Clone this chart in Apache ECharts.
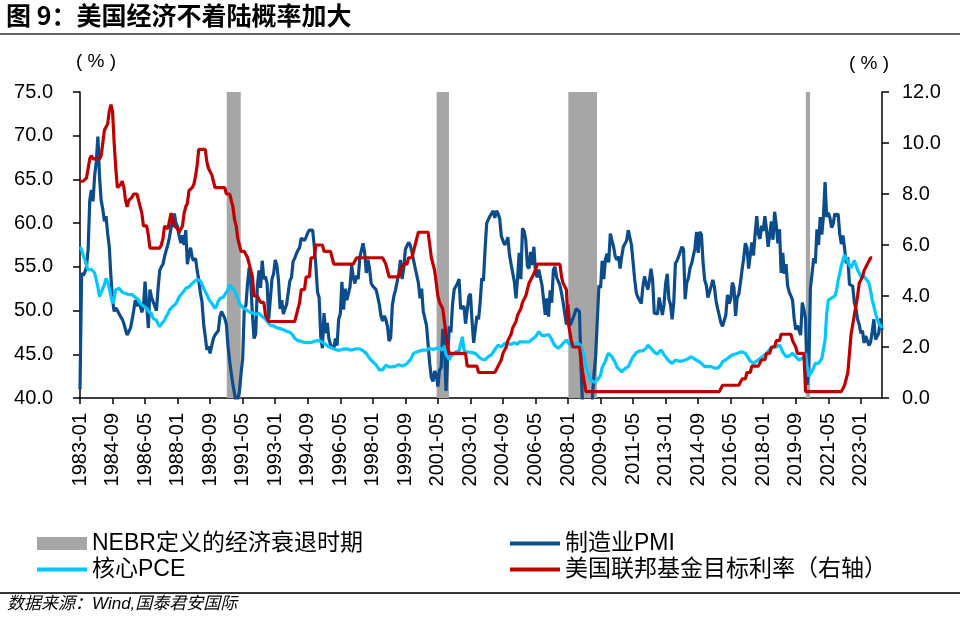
<!DOCTYPE html>
<html><head><meta charset="utf-8">
<script src="https://cdn.jsdelivr.net/npm/echarts@6/dist/echarts.min.js"></script>
<style>html,body{margin:0;padding:0;background:#fff}#c{width:960px;height:617px}</style>
</head><body><div id="c"></div>
<script>
// ---------- categories (monthly, 1983-01 .. 2024-02) ----------
const startYear = 1983, endYear = 2024, endMonth = 2;
const categories = [];
for (let y = startYear; y <= endYear; y++) {
  for (let m = 1; m <= 12; m++) {
    if (y === endYear && m > endMonth) break;
    categories.push(y + '-' + String(m).padStart(2, '0'));
  }
}
// ---------- recession periods (months shaded) ----------
const recessionStart = ['1990-08', '2001-05', '2008-02', '2020-04'];
const recessionEnd   = ['1991-03', '2001-11', '2009-06', '2020-05'];
// ---------- axis ticks ----------
const leftTicks = { min: 40, max: 75, step: 5 };
const rightTicks = { min: 0, max: 12, step: 2 };
// ---------- ISM manufacturing PMI ----------
const pmi = [
/*1983*/41.0,54.3,54.0,54.4,55.0,57.0,62.6,63.8,62.5,65.4,67.0,69.9,
/*1984*/65.3,62.6,61.6,60.2,60.8,58.8,57.3,53.9,51.2,49.9,50.3,50.0,
/*1985*/50.0,49.3,49.0,48.5,47.8,47.2,47.6,48.0,48.9,50.0,51.2,50.5,
/*1986*/50.9,50.6,49.8,50.5,53.3,50.6,48.0,52.4,51.5,51.0,50.8,50.0,
/*1987*/52.5,54.6,55.0,55.3,56.2,56.9,57.5,58.4,59.5,60.3,61.1,60.0,
/*1988*/59.6,58.5,57.7,58.6,57.5,59.2,55.3,56.5,57.2,56.0,55.7,56.0,
/*1989*/54.6,53.5,52.0,51.0,48.5,47.0,45.5,45.9,45.1,46.0,46.8,47.2,
/*1990*/47.3,47.7,49.3,49.9,49.5,49.1,48.4,45.9,44.2,42.8,41.5,40.5,
/*1991*/39.2,39.4,40.7,42.8,44.5,50.3,50.6,53.1,54.9,53.1,49.5,46.8,
/*1992*/47.3,52.7,54.6,52.6,55.7,53.6,53.9,53.1,49.0,49.2,53.6,54.2,
/*1993*/55.8,55.2,53.5,50.2,51.2,49.6,50.2,50.7,50.8,53.4,53.8,55.6,
/*1994*/56.0,56.5,56.9,57.2,58.3,58.4,58.0,58.4,58.9,59.2,59.4,59.2,
/*1995*/57.4,55.1,52.1,51.5,47.0,45.7,49.7,47.4,48.6,46.8,46.1,45.9,
/*1996*/45.6,46.8,46.0,49.0,49.6,53.3,50.1,52.5,51.2,51.3,52.7,55.2,
/*1997*/53.8,53.1,54.0,53.6,56.1,56.0,57.7,56.6,54.3,55.8,54.8,53.1,
/*1998*/52.8,52.9,52.4,51.6,50.7,49.4,48.8,49.4,49.0,48.2,46.5,46.9,
/*1999*/50.6,51.7,52.4,52.3,54.3,55.8,53.6,54.8,57.0,57.2,57.8,57.5,
/*2000*/56.7,55.8,54.9,54.7,53.2,51.4,52.5,49.9,49.9,48.3,48.5,43.9,
/*2001*/42.3,41.9,43.1,42.7,41.3,43.2,43.5,47.9,46.2,40.8,44.5,48.2,
/*2002*/47.5,50.7,52.4,52.4,53.1,53.6,50.2,50.3,50.5,48.5,48.5,51.6,
/*2003*/51.9,48.8,46.3,46.1,49.4,49.0,51.0,53.7,53.4,57.0,60.0,60.1,
/*2004*/60.8,60.6,61.4,60.6,61.4,61.1,60.5,58.5,58.0,57.5,57.8,58.4,
/*2005*/56.4,55.3,55.2,53.3,51.4,53.8,56.6,53.6,59.4,59.1,58.1,55.1,
/*2006*/54.8,56.7,55.2,57.3,54.4,53.8,54.7,54.5,52.9,51.2,49.5,51.4,
/*2007*/49.3,52.3,50.9,54.7,55.0,53.8,53.8,52.9,52.0,50.9,50.8,48.4,
/*2008*/50.7,48.3,48.6,48.6,49.6,50.2,50.0,49.9,43.5,38.9,36.2,32.4,
/*2009*/35.6,35.8,36.3,40.1,42.8,44.8,48.9,52.9,52.6,55.7,53.6,55.9,
/*2010*/56.5,55.5,58.8,58.0,57.3,56.2,55.8,56.2,54.8,56.2,57.3,57.3,
/*2011*/58.0,59.2,59.0,57.5,57.3,53.5,52.0,51.5,51.6,50.8,52.7,53.9,
/*2012*/54.1,52.4,53.4,54.8,53.5,49.7,49.8,49.6,51.5,51.7,49.5,50.7,
/*2013*/53.1,54.2,51.3,50.7,49.0,50.9,55.4,55.7,56.2,56.4,57.3,57.0,
/*2014*/51.3,53.2,53.7,54.9,55.4,55.3,57.1,59.0,56.6,59.0,58.7,55.5,
/*2015*/53.5,52.9,51.5,51.5,52.8,53.5,52.7,51.1,50.2,50.1,48.6,48.2,
/*2016*/48.2,49.5,51.8,50.8,51.3,53.2,52.6,49.4,51.5,51.9,53.2,54.7,
/*2017*/56.0,57.7,57.2,54.8,54.9,57.8,56.3,58.8,60.8,58.7,58.2,59.7,
/*2018*/59.1,60.8,59.3,57.3,58.7,60.2,58.1,61.3,59.8,57.7,59.3,54.3,
/*2019*/56.6,54.2,55.3,52.8,52.1,51.7,51.2,49.1,47.8,48.3,48.1,47.2,
/*2020*/50.9,50.1,49.1,41.5,43.1,52.6,54.2,56.0,55.4,59.3,57.5,60.7,
/*2021*/58.7,60.8,64.7,60.7,61.2,60.6,59.5,59.9,61.1,60.8,61.1,58.8,
/*2022*/57.6,58.6,57.1,55.4,56.1,53.0,52.8,52.8,50.9,50.2,49.0,48.4,
/*2023*/47.4,47.7,46.3,47.1,46.9,46.0,46.4,47.6,49.0,46.7,46.7,47.4,
/*2024*/49.1,47.8
];
// ---------- core PCE YoY (%) ----------
const corePce = [
/*1983*/5.93,5.80,5.60,5.41,5.20,5.02,4.95,5.05,5.10,4.90,4.63,4.35,
/*1984*/3.97,4.15,4.30,4.45,4.69,4.55,4.30,4.00,3.71,3.90,4.25,4.20,
/*1985*/4.30,4.25,4.15,4.20,4.10,4.14,4.05,4.10,4.06,4.00,3.95,3.90,
/*1986*/3.85,3.71,3.65,3.60,3.55,3.52,3.40,3.35,3.30,3.12,3.10,3.05,
/*1987*/2.90,2.80,2.90,2.95,3.05,3.20,3.30,3.45,3.50,3.59,3.65,3.70,
/*1988*/3.75,3.97,4.05,4.10,4.20,4.30,4.35,4.35,4.43,4.50,4.55,4.60,
/*1989*/4.65,4.69,4.60,4.45,4.30,4.17,4.05,3.90,3.80,3.71,3.65,3.52,
/*1990*/3.60,3.80,3.90,3.97,3.95,4.05,4.15,4.25,4.43,4.35,4.30,4.20,
/*1991*/4.05,3.90,3.71,3.65,3.55,3.50,3.46,3.40,3.38,3.35,3.33,3.30,
/*1992*/3.28,3.30,3.32,3.25,3.20,3.15,3.10,3.05,2.93,2.85,2.80,2.83,
/*1993*/2.80,2.75,2.78,2.72,2.70,2.68,2.65,2.62,2.60,2.58,2.55,2.45,
/*1994*/2.34,2.30,2.25,2.20,2.22,2.20,2.18,2.15,2.17,2.20,2.18,2.20,
/*1995*/2.22,2.27,2.25,2.20,2.22,2.18,2.15,2.10,2.05,2.00,1.98,1.95,
/*1996*/1.92,1.90,1.88,1.90,1.88,1.90,1.92,1.95,1.93,1.90,1.88,1.85,
/*1997*/1.90,1.92,1.93,1.95,1.93,1.90,1.85,1.81,1.75,1.65,1.55,1.49,
/*1998*/1.42,1.35,1.30,1.20,1.10,1.03,1.10,1.20,1.29,1.25,1.22,1.25,
/*1999*/1.22,1.20,1.25,1.29,1.30,1.28,1.25,1.29,1.30,1.35,1.42,1.50,
/*2000*/1.60,1.75,1.70,1.80,1.81,1.85,1.82,1.88,1.90,1.88,1.92,1.95,
/*2001*/1.95,1.90,1.88,1.95,2.00,1.95,1.90,1.88,2.05,1.70,1.60,1.50,
/*2002*/1.65,1.68,1.72,1.81,1.78,1.85,1.90,2.40,1.90,1.81,1.78,1.80,
/*2003*/1.81,1.78,1.81,1.75,1.68,1.62,1.55,1.52,1.49,1.50,1.55,1.62,
/*2004*/1.62,1.70,1.80,1.90,1.95,2.07,2.05,2.00,2.07,2.14,2.12,2.14,
/*2005*/2.14,2.10,2.14,2.17,2.14,2.10,2.20,2.15,2.20,2.18,2.20,2.18,
/*2006*/2.20,2.25,2.30,2.35,2.40,2.50,2.60,2.55,2.45,2.40,2.45,2.50,
/*2007*/2.49,2.40,2.30,2.14,2.05,2.00,1.95,2.00,2.07,2.15,2.20,2.27,
/*2008*/2.20,2.10,2.00,2.05,2.14,2.10,2.14,2.15,2.05,1.85,1.62,1.23,
/*2009*/1.05,0.84,0.70,0.65,0.62,0.65,0.70,0.72,0.90,1.20,1.23,1.45,
/*2010*/1.65,1.75,1.72,1.62,1.50,1.40,1.23,1.15,1.10,1.03,1.08,1.15,
/*2011*/1.20,1.23,1.35,1.50,1.62,1.70,1.78,1.82,1.85,1.88,1.85,1.88,
/*2012*/1.95,2.07,2.00,1.95,1.88,1.80,1.75,1.72,1.80,1.88,1.80,1.70,
/*2013*/1.62,1.55,1.45,1.38,1.36,1.42,1.49,1.48,1.45,1.43,1.45,1.49,
/*2014*/1.49,1.52,1.55,1.60,1.62,1.58,1.52,1.49,1.45,1.40,1.36,1.30,
/*2015*/1.23,1.25,1.23,1.20,1.23,1.20,1.17,1.20,1.17,1.20,1.30,1.43,
/*2016*/1.43,1.50,1.55,1.60,1.65,1.69,1.70,1.72,1.75,1.78,1.80,1.81,
/*2017*/1.81,1.75,1.65,1.55,1.45,1.40,1.36,1.40,1.45,1.49,1.55,1.62,
/*2018*/1.65,1.69,1.75,1.81,1.90,1.95,2.01,2.03,2.00,2.02,2.07,1.95,
/*2019*/1.80,1.75,1.62,1.62,1.65,1.62,1.75,1.70,1.62,1.55,1.49,1.52,
/*2020*/1.55,1.62,1.75,1.20,0.84,0.95,1.05,1.20,1.36,1.36,1.36,1.45,
/*2021*/1.55,1.62,2.27,3.32,3.84,3.90,3.92,3.95,4.00,4.20,4.60,4.89,
/*2022*/5.20,5.41,5.61,5.50,5.36,5.20,5.10,5.25,5.40,5.20,5.02,4.90,
/*2023*/4.76,4.76,4.76,4.70,4.60,4.50,4.20,3.84,3.60,3.32,3.10,2.93,
/*2024*/2.85,2.75
];
// ---------- Fed funds target rate (upper bound, %) ----------
const fedRate = [
/*1983*/8.50,8.50,8.50,8.50,8.63,9.00,9.38,9.50,9.38,9.38,9.38,9.38,
/*1984*/9.38,9.50,10.00,10.50,10.50,10.75,11.25,11.50,11.25,10.00,9.00,8.25,
/*1985*/8.25,8.38,8.50,8.25,7.75,7.50,7.75,7.75,7.88,8.00,8.00,8.00,
/*1986*/7.75,7.75,7.25,6.75,6.75,6.75,6.38,5.88,5.88,5.88,5.88,5.88,
/*1987*/5.88,5.88,6.00,6.25,6.75,6.75,6.63,6.63,7.25,7.00,6.75,6.75,
/*1988*/6.63,6.50,6.50,6.75,7.25,7.50,7.63,8.13,8.13,8.25,8.38,8.69,
/*1989*/9.13,9.75,9.75,9.75,9.75,9.75,9.25,9.00,9.00,8.75,8.50,8.25,
/*1990*/8.25,8.25,8.25,8.25,8.25,8.25,8.00,8.00,8.00,7.75,7.50,7.00,
/*1991*/6.75,6.25,6.00,5.75,5.75,5.75,5.75,5.50,5.25,5.00,4.75,4.00,
/*1992*/4.00,4.00,4.00,3.75,3.75,3.75,3.25,3.25,3.00,3.00,3.00,3.00,
/*1993*/3.00,3.00,3.00,3.00,3.00,3.00,3.00,3.00,3.00,3.00,3.00,3.00,
/*1994*/3.00,3.25,3.50,3.75,4.25,4.25,4.25,4.75,4.75,4.75,5.50,5.50,
/*1995*/5.50,6.00,6.00,6.00,6.00,6.00,5.75,5.75,5.75,5.75,5.75,5.50,
/*1996*/5.25,5.25,5.25,5.25,5.25,5.25,5.25,5.25,5.25,5.25,5.25,5.25,
/*1997*/5.25,5.25,5.50,5.50,5.50,5.50,5.50,5.50,5.50,5.50,5.50,5.50,
/*1998*/5.50,5.50,5.50,5.50,5.50,5.50,5.50,5.50,5.25,5.00,4.75,4.75,
/*1999*/4.75,4.75,4.75,4.75,4.75,5.00,5.00,5.25,5.25,5.25,5.50,5.50,
/*2000*/5.50,5.75,6.00,6.00,6.50,6.50,6.50,6.50,6.50,6.50,6.50,6.50,
/*2001*/5.50,5.50,5.00,4.50,4.00,3.75,3.75,3.50,3.00,2.50,2.00,1.75,
/*2002*/1.75,1.75,1.75,1.75,1.75,1.75,1.75,1.75,1.75,1.75,1.25,1.25,
/*2003*/1.25,1.25,1.25,1.25,1.25,1.00,1.00,1.00,1.00,1.00,1.00,1.00,
/*2004*/1.00,1.00,1.00,1.00,1.00,1.25,1.25,1.50,1.75,1.75,2.00,2.25,
/*2005*/2.25,2.50,2.75,2.75,3.00,3.25,3.25,3.50,3.75,3.75,4.00,4.25,
/*2006*/4.50,4.50,4.75,4.75,5.00,5.25,5.25,5.25,5.25,5.25,5.25,5.25,
/*2007*/5.25,5.25,5.25,5.25,5.25,5.25,5.25,5.25,4.75,4.50,4.50,4.25,
/*2008*/3.00,3.00,2.25,2.00,2.00,2.00,2.00,2.00,2.00,1.00,1.00,0.25,
/*2009*/0.25,0.25,0.25,0.25,0.25,0.25,0.25,0.25,0.25,0.25,0.25,0.25,
/*2010*/0.25,0.25,0.25,0.25,0.25,0.25,0.25,0.25,0.25,0.25,0.25,0.25,
/*2011*/0.25,0.25,0.25,0.25,0.25,0.25,0.25,0.25,0.25,0.25,0.25,0.25,
/*2012*/0.25,0.25,0.25,0.25,0.25,0.25,0.25,0.25,0.25,0.25,0.25,0.25,
/*2013*/0.25,0.25,0.25,0.25,0.25,0.25,0.25,0.25,0.25,0.25,0.25,0.25,
/*2014*/0.25,0.25,0.25,0.25,0.25,0.25,0.25,0.25,0.25,0.25,0.25,0.25,
/*2015*/0.25,0.25,0.25,0.25,0.25,0.25,0.25,0.25,0.25,0.25,0.25,0.50,
/*2016*/0.50,0.50,0.50,0.50,0.50,0.50,0.50,0.50,0.50,0.50,0.50,0.75,
/*2017*/0.75,0.75,1.00,1.00,1.00,1.25,1.25,1.25,1.25,1.25,1.25,1.50,
/*2018*/1.50,1.50,1.75,1.75,1.75,2.00,2.00,2.00,2.25,2.25,2.25,2.50,
/*2019*/2.50,2.50,2.50,2.50,2.50,2.50,2.25,2.25,2.00,1.75,1.75,1.75,
/*2020*/1.75,1.75,0.25,0.25,0.25,0.25,0.25,0.25,0.25,0.25,0.25,0.25,
/*2021*/0.25,0.25,0.25,0.25,0.25,0.25,0.25,0.25,0.25,0.25,0.25,0.25,
/*2022*/0.25,0.25,0.50,0.50,1.00,1.75,2.50,2.50,3.25,3.25,4.00,4.50,
/*2023*/4.50,4.75,5.00,5.00,5.25,5.25,5.50,5.50
];
// ---------- names ----------
const nameRecession = 'NEBR定义的经济衰退时期';
const namePmi = '制造业PMI';
const namePce = '核心PCE';
const nameFed = '美国联邦基金目标利率（右轴）';

// recession flag per month (1 = shaded) built from the period lists
const recessionFlag = categories.map(c => {
  for (let i = 0; i < recessionStart.length; i++) {
    if (c >= recessionStart[i] && c <= recessionEnd[i]) return 1;
  }
  return null;
});

const FONT = '"Liberation Sans", Arial, "Noto Sans CJK SC", sans-serif';
const chart = echarts.init(document.getElementById('c'), null, { renderer: 'canvas' });

const axisCommon = {
  axisLine: { show: true, lineStyle: { color: '#000', width: 1.5 } },
  axisTick: { show: true, length: 7, lineStyle: { color: '#000', width: 1.5 } },
  splitLine: { show: false },
};

const legendText = { fontSize: 23, color: '#000', fontFamily: FONT };

chart.setOption({
  animation: false,
  backgroundColor: '#fff',
  grid: { left: 80, right: 78, top: 92, bottom: 219, containLabel: false },
  xAxis: {
    type: 'category', data: categories, boundaryGap: false,
    axisLine: { lineStyle: { color: '#000', width: 1.5 } },
    axisTick: { interval: 19, length: 6, lineStyle: { color: '#000', width: 1.5 } },
    axisLabel: { interval: 19, rotate: 90, fontSize: 20, color: '#000', margin: 15, fontFamily: FONT },
    splitLine: { show: false }
  },
  yAxis: [
    Object.assign({}, axisCommon, {
      type: 'value', position: 'left', min: leftTicks.min, max: leftTicks.max, interval: leftTicks.step,
      axisLabel: { fontSize: 20, color: '#000', margin: 27, fontFamily: FONT, formatter: v => v.toFixed(1) }
    }),
    Object.assign({}, axisCommon, {
      type: 'value', position: 'right', min: rightTicks.min, max: rightTicks.max, interval: rightTicks.step,
      axisLabel: { fontSize: 20, color: '#000', margin: 20, fontFamily: FONT, formatter: v => v.toFixed(1) }
    }),
    { type: 'value', show: false, min: 0, max: 1 }
  ],
  legend: [
    { data: [nameRecession], left: 32, top: 527, icon: 'rect', itemWidth: 50, itemHeight: 13, itemGap: 6, textStyle: legendText, selectedMode: false },
    { data: [namePce], left: 32, top: 553, icon: 'rect', itemWidth: 50, itemHeight: 4, textStyle: legendText, selectedMode: false },
    { data: [namePmi], left: 505, top: 527, icon: 'rect', itemWidth: 50, itemHeight: 4, textStyle: legendText, selectedMode: false },
    { data: [nameFed], left: 505, top: 553, icon: 'rect', itemWidth: 50, itemHeight: 4, textStyle: legendText, selectedMode: false }
  ],
  series: [
    {
      name: nameRecession, type: 'bar', yAxisIndex: 2, data: recessionFlag,
      barWidth: 2.6, silent: true,
      itemStyle: { color: '#a6a6a6' }
    },
    {
      name: namePmi, type: 'line', yAxisIndex: 0, data: pmi, showSymbol: false, clip: true,
      lineStyle: { color: '#0b4d8c', width: 3.2 }, itemStyle: { color: '#0b4d8c' }
    },
    {
      name: namePce, type: 'line', yAxisIndex: 1, data: corePce, showSymbol: false, clip: true,
      lineStyle: { color: '#00c8ff', width: 3.2 }, itemStyle: { color: '#00c8ff' }
    },
    {
      name: nameFed, type: 'line', yAxisIndex: 1, data: fedRate, showSymbol: false, clip: true,
      lineStyle: { color: '#c00000', width: 3.2 }, itemStyle: { color: '#c00000' }
    }
  ],
  graphic: [
    { type: 'text', left: 6, top: 3, style: { text: '图 9：美国经济不着陆概率加大', fontSize: 25, fontWeight: 'bold', fill: '#000', fontFamily: '"Noto Sans CJK SC", "Liberation Sans", sans-serif' } },
    { type: 'line', shape: { x1: 0, y1: 34, x2: 960, y2: 34 }, style: { stroke: '#333', lineWidth: 1.5 } },
    { type: 'text', left: 76, top: 52, style: { text: '( % )', fontSize: 19, fill: '#000', fontFamily: FONT } },
    { type: 'text', left: 849, top: 54, style: { text: '( % )', fontSize: 19, fill: '#000', fontFamily: FONT } },
    { type: 'line', shape: { x1: 0, y1: 593, x2: 960, y2: 593 }, style: { stroke: '#333', lineWidth: 2 } },
    { type: 'text', left: 7, top: 596, style: { text: '数据来源：Wind,国泰君安国际', fontSize: 17, fontStyle: 'italic', fill: '#000', fontFamily: FONT } }
  ]
});
</script>
</body></html>
